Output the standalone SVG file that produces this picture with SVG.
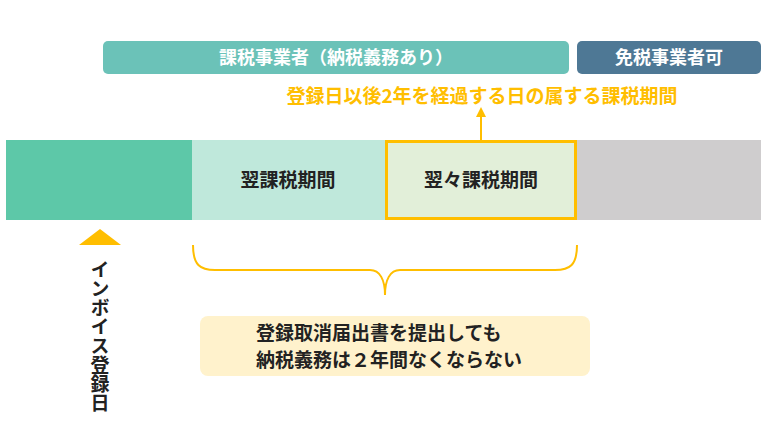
<svg xmlns="http://www.w3.org/2000/svg" width="768" height="432" viewBox="0 0 768 432">
<style>
text{font-family:"Noto Sans CJK JP","Noto Sans",sans-serif;font-weight:bold}
.w{fill:#fff;font-size:18px}
.k{fill:#222;font-size:19px}
</style>
<rect width="768" height="432" fill="#fff"/>
<g id="taxable"><rect x="103" y="41" width="466" height="33" rx="5" fill="#6BC2B8"/><text class="w" x="336" y="64" text-anchor="middle">課税事業者（納税義務あり）</text></g>
<g id="exempt"><rect x="577" y="41" width="184" height="33" rx="5" fill="#4E7895"/><text class="w" x="669" y="64" text-anchor="middle">免税事業者可</text></g>
<g id="period0"><rect x="6" y="140" width="186" height="80" fill="#5DC8A8"/></g>
<g id="period1"><rect x="192" y="140" width="193" height="80" fill="#BFE8DB"/><text class="k" x="288" y="187" text-anchor="middle">翌課税期間</text></g>
<g id="period3"><rect x="577" y="140" width="184" height="80" fill="#CFCDCE"/></g>
<g id="period2"><rect x="386.5" y="141.5" width="189" height="77" fill="#E2EFD9" stroke="#FFBE00" stroke-width="3"/><text class="k" x="481" y="187" text-anchor="middle">翌々課税期間</text></g>
<g id="label"><text x="482" y="103" text-anchor="middle" fill="#FFBE00" font-size="19">登録日以後2年を経過する日の属する課税期間</text></g>
<g id="registration"><polygon points="100,229 79,245 121,245" fill="#FFBE00"/>
<text class="k" x="100" y="260" style="writing-mode:vertical-rl">インボイス登録日</text></g>
<g id="note"><rect x="200" y="316" width="390" height="60" rx="8" fill="#FFF2CC"/>
<text class="k" x="256" y="340">登録取消届出書を提出しても</text><text class="k" x="256" y="367">納税義務は２年間なくならない</text></g>
<g id="connectors" fill="none" stroke="#FFBE00" stroke-width="2">
<line x1="481" y1="140" x2="481" y2="115"/><polygon points="481,107 476,117 486,117" fill="#FFBE00" stroke="none"/>
<path d="M193,245 C193,265 200,270 215,270 L370,270 C380,270 385,280 385,295 C385,280 390,270 400,270 L555,270 C570,270 577,265 577,245"/>
</g>
</svg>
